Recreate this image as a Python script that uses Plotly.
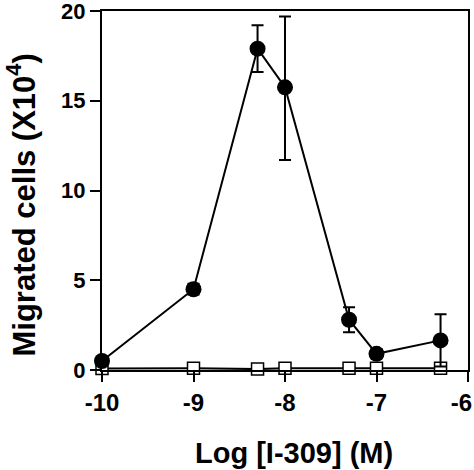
import plotly.graph_objects as go

log_conc = [-10, -9, -8.3, -8, -7.3, -7, -6.3]
migrated = [0.5, 4.5, 17.9, 15.75, 2.8, 0.9, 1.65]
err_plus = [0.2, 0.3, 1.3, 3.95, 0.7, 0.25, 1.45]
err_minus = [0.2, 0.3, 1.3, 4.05, 0.7, 0.25, 1.45]
control = [0.08, 0.1, 0.05, 0.1, 0.1, 0.1, 0.1]
x_ticks = [-10, -9, -8, -7, -6]
y_ticks = [0, 5, 10, 15, 20]
x_title = "Log [I-309] (M)"
y_title = "Migrated cells (X10<sup>4</sup>)"

fig = go.Figure()
fig.add_trace(go.Scatter(
    x=log_conc, y=control, mode="lines+markers", cliponaxis=False,
    line=dict(color="black", width=2),
    marker=dict(symbol="square", size=12, color="white", line=dict(color="black", width=1.5)),
    showlegend=False))
fig.add_trace(go.Scatter(
    x=log_conc, y=migrated, mode="lines+markers", cliponaxis=False,
    line=dict(color="black", width=2),
    marker=dict(symbol="circle", size=16, color="black"),
    error_y=dict(type="data", array=err_plus, arrayminus=err_minus, color="black", thickness=2, width=6),
    showlegend=False))

x_ticktext = [f"<b>{v}</b>" for v in x_ticks]
x_ticktext[-1] = x_ticktext[-1] + "&nbsp;&nbsp;"

font = dict(family="Liberation Sans, Arial, sans-serif", color="black")
fig.update_layout(
    width=474, height=470, margin=dict(l=102, r=6, t=11, b=100, autoexpand=False),
    plot_bgcolor="white", paper_bgcolor="white",
    font=font,
    xaxis=dict(range=[-10, -6], tickvals=x_ticks, ticktext=x_ticktext,
               ticks="outside", ticklen=10, tickwidth=2, tickcolor="black", ticklabeloverflow="allow",
               automargin=False,
               showline=True, linecolor="black", linewidth=2, mirror=True, showgrid=False, zeroline=False,
               tickfont=dict(size=24, **font)),
    yaxis=dict(range=[0, 20], tickvals=y_ticks, ticktext=[f"<b>{v}</b>" for v in y_ticks],
               ticks="outside", ticklen=10, tickwidth=2, tickcolor="black", ticklabeloverflow="allow",
               automargin=False,
               showline=True, linecolor="black", linewidth=2, mirror=True, showgrid=False, zeroline=False,
               tickfont=dict(size=22, **font)),
    annotations=[
        dict(text=f"<b>{x_title}</b>", xref="paper", yref="paper", x=0.525, y=0, yshift=-83,
             xanchor="center", yanchor="middle", showarrow=False, font=dict(size=29, **font)),
        dict(text=f"<b>{y_title}</b>", xref="paper", yref="paper", x=0, xshift=-81, y=0.5, yshift=-15,
             xanchor="center", yanchor="middle", textangle=-90, showarrow=False, font=dict(size=31, **font)),
    ],
)
fig.write_html("out.html")
